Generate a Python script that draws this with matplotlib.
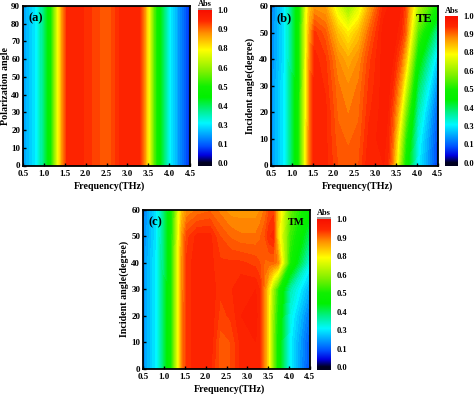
import numpy as np
import matplotlib
matplotlib.use('Agg')
import matplotlib.pyplot as plt
from matplotlib.colors import LinearSegmentedColormap

plt.rcParams['font.family'] = ['Liberation Serif', 'DejaVu Serif']
plt.rcParams['font.weight'] = 'bold'

# frequency samples (THz)
freq = [.5, .83, 1.0, 1.15, 1.25, 1.34, 1.43, 1.55, 1.8, 2.1, 2.35, 2.6, 2.85, 3.2, 3.3, 3.42, 3.52, 3.62, 3.73, 4.02, 4.5]
pol_angle = [0, 45, 90]
inc_angle = [0, 10, 20, 30, 40, 50, 60]

# (a) does not change with polarization angle
abs_a = [
    [.18, .26, .37, .47, .62, .74, .85, .94, .95, .92, .90, .90, .94, .95, .94, .85, .74, .60, .47, .26, .08],
    [.18, .26, .37, .47, .62, .74, .85, .94, .95, .92, .90, .90, .94, .95, .94, .85, .74, .60, .47, .26, .08],
    [.18, .26, .37, .47, .62, .74, .85, .94, .95, .92, .90, .90, .94, .95, .94, .85, .74, .60, .47, .26, .08],
]
# (b) TE
abs_b = [
    [.17, .26, .37, .47, .62, .76, .88, .95, .94, .90, .89, .90, .95, .95, .93, .85, .74, .60, .47, .26, .09],
    [.17, .26, .37, .47, .62, .76, .88, .95, .94, .89, .88, .89, .94, .96, .94, .88, .78, .66, .52, .28, .10],
    [.17, .26, .37, .47, .62, .75, .87, .95, .94, .88, .865, .88, .93, .96, .95, .90, .84, .74, .60, .32, .12],
    [.17, .26, .37, .47, .61, .75, .87, .95, .93, .87, .85, .87, .92, .96, .96, .93, .88, .82, .70, .38, .16],
    [.16, .25, .36, .46, .60, .74, .86, .94, .92, .85, .82, .85, .91, .96, .96, .95, .92, .88, .80, .46, .22],
    [.16, .25, .36, .46, .60, .73, .84, .92, .89, .80, .75, .80, .88, .96, .96, .96, .95, .93, .88, .56, .32],
    [.15, .25, .36, .45, .58, .72, .80, .84, .83, .70, .62, .70, .82, .94, .95, .96, .96, .95, .90, .66, .48],
]
# (c) TM
abs_c = [
    [.17, .26, .37, .47, .60, .73, .86, .92, .95, .94, .89, .90, .94, .95, .93, .85, .74, .60, .47, .26, .10],
    [.17, .26, .37, .47, .60, .73, .86, .92, .95, .95, .89, .90, .94, .95, .93, .85, .74, .60, .47, .26, .11],
    [.17, .26, .37, .47, .60, .73, .86, .92, .95, .95, .91, .92, .95, .96, .93, .85, .74, .61, .49, .28, .14],
    [.17, .26, .37, .47, .60, .73, .85, .92, .95, .95, .92, .93, .95, .95, .93, .85, .75, .63, .52, .32, .19],
    [.17, .26, .36, .46, .60, .72, .85, .92, .95, .94, .92, .92, .92, .91, .90, .88, .88, .88, .86, .50, .27],
    [.16, .25, .36, .46, .59, .72, .84, .91, .94, .94, .90, .88, .87, .87, .88, .90, .93, .94, .78, .54, .36],
    [.15, .25, .35, .45, .57, .70, .80, .85, .87, .88, .86, .84, .84, .84, .85, .87, .90, .91, .80, .58, .44],
]

cbar_ticks = [0, .125, .25, .375, .5, .625, .75, .875, 1.0]
cbar_labels = ['0.0', '0.1', '0.3', '0.4', '0.5', '0.6', '0.8', '0.9', '1.0']

abs_cmap = LinearSegmentedColormap.from_list('abs', [
    (0.0, '#000020'), (0.05, '#0000e0'), (0.11, '#0050ff'), (0.26, '#00f8ff'),
    (0.34, '#00f090'), (0.43, '#00f000'), (0.5, '#10f000'), (0.6, '#80f000'), (0.74, '#ffff00'),
    (0.85, '#ff9000'), (0.93, '#ff2800'), (1.0, '#f81000')])
levels = np.linspace(0, 1, 61)


def draw_panel(box, cbox, y, z, ylabel, ylabel_x, yticks, tag, mode=None, mode_size=9, sliver=True):
    ax = fig.add_axes([box[0] / W, 1 - box[3] / H, (box[2] - box[0]) / W, (box[3] - box[1]) / H])
    ax.contourf(freq, y, z, levels=levels, cmap=abs_cmap, vmin=0, vmax=1)
    ax.set_xlim(0.5, 4.5)
    ax.set_ylim(y[0], y[-1])
    ax.set_xticks(np.arange(0.5, 4.6, 0.5))
    ax.set_yticks(yticks)
    ax.tick_params(direction='in', length=2.5, width=1, labelsize=6.5)
    ax.tick_params(axis='x', pad=3)
    ax.tick_params(axis='y', pad=2)
    for s in ax.spines.values():
        s.set_linewidth(1.3)
    ax.set_xlabel('Frequency(THz)', fontsize=7.2, fontweight='bold')
    ax.xaxis.set_label_coords(0.52, -16 / (box[3] - box[1]))
    ax.set_ylabel(ylabel, fontsize=7.2, fontweight='bold')
    ax.yaxis.set_label_coords((ylabel_x - box[0]) / (box[2] - box[0]), 0.5)
    ax.yaxis.label.set_va('center')
    ax.text(0.03, 0.92, tag, transform=ax.transAxes, fontsize=9, fontweight='bold', va='center')
    if mode:
        ax.text(0.965, 0.92, mode, transform=ax.transAxes, fontsize=mode_size, fontweight='bold',
                va='center', ha='right')

    cax = fig.add_axes([cbox[0] / W, 1 - cbox[3] / H, (cbox[2] - cbox[0]) / W, (cbox[3] - cbox[1]) / H])
    grad = np.linspace(0, 1, 256).reshape(-1, 1)
    cax.imshow(grad, origin='lower', aspect='auto', extent=[0, 1, 0, 1], cmap=abs_cmap, vmin=0, vmax=1)
    cax.axhspan(-0.02, 0, color='#000020', lw=0)
    if sliver:
        cax.axhspan(1.0, 1.015, color='#a0a0a0', lw=0)
        cax.set_ylim(-0.02, 1.015)
    else:
        cax.set_ylim(-0.02, 1.005)
    cax.set_xticks([])
    cax.yaxis.tick_right()
    cax.set_yticks(cbar_ticks)
    cax.set_yticklabels(cbar_labels)
    cax.tick_params(length=0, labelsize=6, pad=4)
    for s in cax.spines.values():
        s.set_visible(False)
    cax.text(0.5, 1.0, 'Abs', transform=cax.transAxes, fontsize=6,
             fontweight='bold', ha='center', va='bottom')


W, H = 474, 395
fig = plt.figure(figsize=(W / 100, H / 100), dpi=100)

draw_panel((23, 6, 190, 165.5), (198, 8, 212, 166), pol_angle, abs_a, 'Polarization angle', 6,
           np.arange(0, 91, 10), '(a)')
draw_panel((271, 6, 438, 165.5), (445, 15, 458, 165.5), inc_angle, abs_b, 'Incident angle(degree)', 250,
           np.arange(0, 61, 10), '(b)', 'TE', sliver=False)
draw_panel((143, 210, 310, 368.5), (317, 217, 331, 370), inc_angle, abs_c, 'Incident angle(degree)', 124,
           np.arange(0, 61, 10), '(c)', 'TM', mode_size=7.5)

fig.savefig('out.png', dpi=100)
